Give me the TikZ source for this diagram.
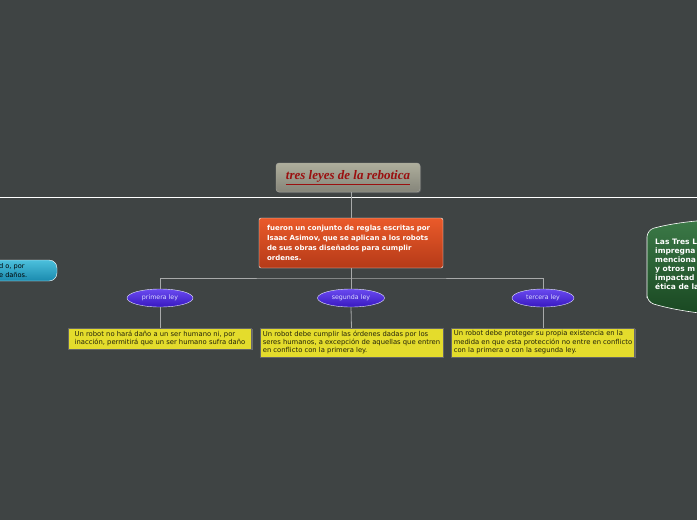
\documentclass[tikz,border=0pt]{standalone}
\usepackage{fontspec}
\setmainfont{DejaVu Sans}
\newfontfamily\titlefont{Liberation Serif}
\usepackage{tikz}
\usetikzlibrary{shapes.geometric,shadows}

\definecolor{bgdark}{HTML}{3F4444}
\definecolor{titletop}{HTML}{AEAE9C}
\definecolor{titlebot}{HTML}{85857A}
\definecolor{titlered}{HTML}{9A0F0F}
\definecolor{orangetop}{HTML}{EA5A2A}
\definecolor{orangebot}{HTML}{B53A18}
\definecolor{lawtop}{HTML}{6A4AF0}
\definecolor{lawbot}{HTML}{3818C0}
\definecolor{lawtext}{HTML}{DCDCFF}
\definecolor{noteyellow}{HTML}{E4DC2C}
\definecolor{notetext}{HTML}{22220A}
\definecolor{bluetop}{HTML}{4CC0DC}
\definecolor{bluebot}{HTML}{1A8AAE}
\definecolor{greentop}{HTML}{3C7A48}
\definecolor{greenbot}{HTML}{184620}
\definecolor{wirecol}{HTML}{A8AAAA}

\begin{document}
\begin{tikzpicture}[x=1pt,y=-1pt,
		wire/.style={draw=wirecol, line width=0.8pt},
		lawnode/.style={ellipse, draw=lawtext!70, top color=lawtop, bottom color=lawbot,
			text=lawtext, font=\fontsize{6.3}{7}\selectfont, minimum height=18, inner sep=1pt},
		notebox/.style={rectangle, fill=noteyellow, draw=black!60, text=notetext,
			font=\fontsize{6.8}{8.4}\selectfont, align=left, minimum width=183,
			inner xsep=1.5pt, inner ysep=2pt,
			drop shadow={shadow xshift=1.2pt, shadow yshift=-1.2pt, opacity=0.7}}]
		\fill [bgdark] (0,0) rectangle (697,520);
		\useasboundingbox (0,0) rectangle (697,520);
		
		% long white line under the title
		\coordinate (wleft) at (0,197);
		\coordinate (wright) at (697,197);
		\draw [white, line width=1pt] (wleft) -- (wright);
		
		\node (title) [rectangle, rounded corners=3pt, draw=titlebot!70, top color=titletop, bottom color=titlebot,
			minimum width=144, minimum height=29, text=titlered,
			drop shadow={shadow xshift=1pt, shadow yshift=-1pt, opacity=0.5},
			font=\titlefont\fontsize{13}{15}\selectfont\bfseries\itshape] at (348,177.5)
			{\underline{tres leyes de la rebotica}};
		
		\node (def) [rectangle, rounded corners=2pt, draw=white!85, top color=orangetop, bottom color=orangebot,
			text=white, minimum width=184, minimum height=50, text width=168, align=left,
			font=\fontsize{7}{10}\selectfont\bfseries] at (351,243)
			{fueron un conjunto de reglas escritas por\\ Isaac Asimov, que se aplican a los robots\\ de sus obras diseñados para cumplir\\ ordenes.};
		
		% the three laws
		\node (law1) [lawnode, minimum width=66] at (160,298) {primera ley};
		\node (law2) [lawnode, minimum width=67] at (351,298) {segunda ley};
		\node (law3) [lawnode, minimum width=62] at (543,298) {tercera ley};
		
		\node (note1) [notebox, minimum height=21] at (160,338.5)
			{Un robot no hará daño a un ser humano ni, por\\ inacción, permitirá que un ser humano sufra daño};
		\node (note2) [notebox, minimum height=29] at (351.5,342.5)
			{Un robot debe cumplir las órdenes dadas por los\\ seres humanos, a excepción de aquellas que entren\\ en conflicto con la primera ley.};
		\node (note3) [notebox, minimum height=29] at (543,342.5)
			{Un robot debe proteger su propia existencia en la\\ medida en que esta protección no entre en conflicto\\ con la primera o con la segunda ley.};
		
		% side nodes, cut by the page edge
		\node (side) [rectangle, rounded corners=8pt, draw=white!70, top color=bluetop, bottom color=bluebot,
			text=black, minimum width=80, minimum height=21, text width=36, align=left, inner xsep=0pt,
			font=\fontsize{6.6}{8.5}\selectfont] at (17,270.5) {d o, por\\ e daños.};
		\draw [draw=white!75, line width=0.6pt, top color=greentop, bottom color=greenbot, rounded corners=7pt]
			(647,302) -- (647,230) .. controls (680,221) and (720,218) .. (760,220) -- (760,318)
			.. controls (720,316) and (680,312) .. (647,302) -- cycle;
		\node (other) [text=white, align=left, anchor=north west, inner sep=0pt,
			font=\fontsize{7.5}{9}\selectfont\bfseries] at (655,239)
			{Las Tres L\\ impregna\\ menciona\\ y otros m\\ impactad\\ ética de la};
		
		\coordinate (bus) at (351,278);
		\draw [wire] (def.north |- title.south) -- (def.north);
		\draw [wire] (def.south) -- (law2.north);
		\draw [wire] (law1.north) |- (bus) -| (law3.north);
		\foreach \i in {1,2,3}
		\draw [wire] (law\i.south) -- (note\i.north);
\end{tikzpicture}
\end{document}
